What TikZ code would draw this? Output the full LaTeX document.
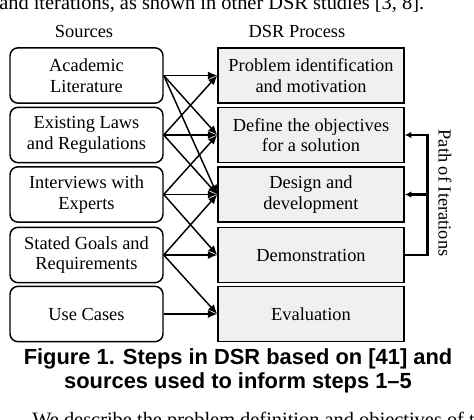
\documentclass[tikz,border=0pt]{standalone}
\usepackage{fontspec}
\setmainfont{Liberation Serif}
\newfontfamily\capfont{Liberation Sans}
\usetikzlibrary{arrows.meta}

\begin{document}
\begin{tikzpicture}[
  x=0.75pt, y=-0.75pt,
  source/.style={draw, line width=1.1pt, rounded corners=6pt, minimum width=114.75pt,
    minimum height=41.5pt, align=center, inner sep=0pt,
    font=\fontsize{13.8}{15.5}\selectfont},
  dsrstep/.style={draw, line width=1.1pt, fill=gray!12, minimum width=139.5pt,
    minimum height=41.5pt, align=center, inner sep=0pt,
    font=\fontsize{13.8}{15.5}\selectfont},
  label/.style={font=\fontsize{13.8}{15.5}\selectfont, inner sep=0pt},
  feed/.style={line width=1.1pt, -{Latex[length=7pt,width=6pt]}},
  iterline/.style={line width=1.9pt, -{Latex[length=5pt,width=5pt]}}
]
\clip (0,0) rectangle (474,420);

% --- page text around the figure ---
\node[anchor=base west, inner sep=0pt, font=\fontsize{15.3}{18}\selectfont] (above) at (-1,10)
  {and iterations, as shown in other DSR studies [3, 8].};
\node[anchor=base west, inner sep=0pt, font=\fontsize{15.3}{18}\selectfont] (below) at (32,426)
  {We describe the problem definition and objectives of the};

% --- column headings ---
\node[label] (srchead) at (84,32) {Sources};
\node[label] (dsrhead) at (297,32) {DSR Process};

% --- sources ---
\node[source] (S1) at (86.5,75.5) {Academic\\Literature};
\node[source] (S2) at (86.5,135) {Existing Laws\\and Regulations};
\node[source] (S3) at (86.5,194.5) {Interviews with\\Experts};
\node[source] (S4) at (86.5,255) {Stated Goals and\\Requirements};
\node[source] (S5) at (86.5,314) {Use Cases};

% --- DSR steps ---
\node[dsrstep] (P1) at (311,75.5) {Problem identification\\and motivation};
\node[dsrstep] (P2) at (311,135) {Define the objectives\\for a solution};
\node[dsrstep] (P3) at (311,194.5) {Design and\\development};
\node[dsrstep] (P4) at (311,255) {Demonstration};
\node[dsrstep] (P5) at (311,314) {Evaluation};

% --- sources to steps ---
\draw[feed] (S1.east) -- (P1.west);
\draw[feed] (S1.east) -- (P2.west);
\draw[feed] (S1.east) -- (P3.west);
\draw[feed] (S2.east) -- (P1.west);
\draw[feed] (S2.east) -- (P2.west);
\draw[feed] (S2.east) -- (P3.west);
\draw[feed] (S3.east) -- (P2.west);
\draw[feed] (S3.east) -- (P3.west);
\draw[feed] (S3.east) -- (P4.west);
\draw[feed] (S4.east) -- (P3.west);
\draw[feed] (S4.east) -- (P4.west);
\draw[feed] (S4.east) -- (P5.west);
\draw[feed] (S5.east) -- (P5.west);

% --- path of iterations ---
\draw[iterline] (P4.east) -- ++(23,0) coordinate (bend) |- (P2.east);
\draw[iterline] (bend |- P3.east) -- (P3.east);
\node[label, rotate=-90] (iterlabel) at (445,193) {Path of Iterations};

% --- caption ---
\node[align=center, inner sep=0pt, font=\capfont\bfseries\fontsize{16.4}{18}\selectfont]
  (caption) at (238,371) {Figure 1. Steps in DSR based on [41] and\\sources used to inform steps 1–5};

\end{tikzpicture}
\end{document}
